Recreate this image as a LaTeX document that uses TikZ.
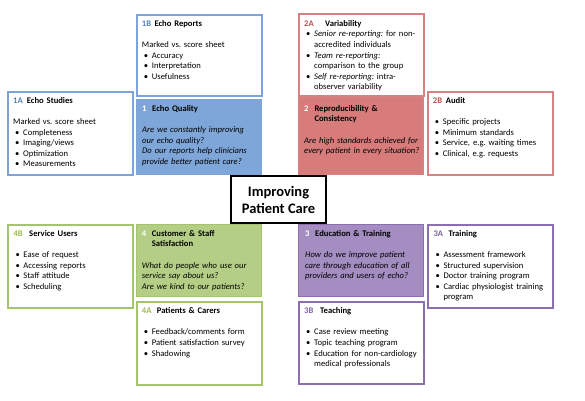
\documentclass[tikz,border=0pt]{standalone}
\usepackage{fontspec}
\setmainfont{Carlito}
\definecolor{bluefill}{HTML}{7FA6D8}
\definecolor{blueline}{HTML}{7DA3D8}
\definecolor{bluenum}{HTML}{4F81BD}
\definecolor{redfill}{HTML}{D77B7B}
\definecolor{redline}{HTML}{D68282}
\definecolor{rednum}{HTML}{C0504D}
\definecolor{greenfill}{HTML}{B4CE85}
\definecolor{greenline}{HTML}{A5C46E}
\definecolor{greennum}{HTML}{9BBB59}
\definecolor{purpfill}{HTML}{A38DC1}
\definecolor{purpline}{HTML}{8C6FB0}
\definecolor{purpnum}{HTML}{8064A2}
\frenchspacing
\newlength\hdw
\newcommand\hd[4]{\setlength\hdw{#1}\hangindent=\hdw\hangafter=1\noindent\makebox[\hdw][l]{\textbf{\color{#2}#3}}\textbf{#4}\par}
\newcommand\gap{\vspace{10.6pt}}
\newcommand\bl[1]{\hangindent=10pt\hangafter=1\noindent\hspace*{2pt}\makebox[8pt][l]{\textbullet}#1\par}
\newcommand\pl[1]{\noindent #1\par}
\newcommand\boxsetup{\raggedright\setlength\parindent{0pt}\frenchspacing}
\newcommand\boxfont{\fontsize{8.6}{10.6}\selectfont}
\tikzset{
  outbox/.style={draw=#1, line width=1.6pt, fill=white, inner sep=0pt, anchor=north west},
  fillbox/.style={draw=#1line, fill=#1fill, line width=1.2pt, inner sep=0pt, anchor=north west},
  txt/.style={anchor=base west, inner sep=0pt, text width=130pt, font=\boxfont,
    execute at begin node=\boxsetup},
}
\begin{document}
\begin{tikzpicture}[x=1pt,y=-1pt]
\useasboundingbox (0,0) rectangle (585,400);
% ---------- quadrant 1 (blue)
\node[outbox=blueline, minimum width=125pt, minimum height=83pt] (b1A) at (7,91) {};
\node[outbox=blueline, minimum width=125pt, minimum height=81pt] (b1B) at (136,14) {};
\node[fillbox=blue, minimum width=125pt, minimum height=75pt] (b1) at (136,99) {};
\node[txt] (t1A) at (13,103.3) {%
  \hd{13.7pt}{bluenum}{1A}{Echo Studies}\gap
  \pl{Marked vs. score sheet}
  \bl{Completeness}\bl{Imaging/views}\bl{Optimization}\bl{Measurements}};
\node[txt] (t1B) at (141.7,26.3) {%
  \hd{12.6pt}{bluenum}{1B}{Echo Reports}\gap
  \pl{Marked vs. score sheet}
  \bl{Accuracy}\bl{Interpretation}\bl{Usefulness}};
\node[txt] (t1) at (142,111.3) {%
  \hd{10pt}{white}{1}{Echo Quality}\gap
  \pl{\itshape Are we constantly improving\newline our echo quality?\newline
  Do our reports help clinicians\newline provide better patient care?}};
% ---------- quadrant 2 (red)
\node[outbox=redline, minimum width=125pt, minimum height=82pt] (b2A) at (298,13) {};
\node[fillbox=red, minimum width=125pt, minimum height=77pt] (b2) at (298,97) {};
\node[outbox=redline, minimum width=125pt, minimum height=83pt] (b2B) at (427,91) {};
\node[txt] (t2A) at (304,26.3) {%
  \hd{21pt}{rednum}{2A}{Variability}
  \bl{\textit{Senior re-reporting:} for non-\newline accredited individuals}
  \bl{\textit{Team re-reporting:}\newline comparison to the group}
  \bl{\textit{Self re-reporting:} intra-\newline observer variability}};
\node[txt] (t2) at (304,111.3) {%
  \hd{10.3pt}{white}{2}{Reproducibility \&\newline Consistency}\gap
  \pl{\itshape Are high standards achieved for\newline every patient in every situation?}};
\node[txt] (t2B) at (432.7,103.3) {%
  \hd{13pt}{rednum}{2B}{Audit}\gap
  \bl{Specific projects}\bl{Minimum standards}\bl{Service, e.g. waiting times}\bl{Clinical, e.g. requests}};
% ---------- quadrant 4 (green)
\node[outbox=greenline, minimum width=125pt, minimum height=83pt] (b4B) at (7,224) {};
\node[fillbox=green, minimum width=125pt, minimum height=72pt] (b4) at (136,224) {};
\node[outbox=greenline, minimum width=125pt, minimum height=83pt] (b4A) at (136,301) {};
\node[txt] (t4B) at (13.3,236.3) {%
  \hd{15.7pt}{greennum}{4B}{Service Users}\gap
  \bl{Ease of request}\bl{Accessing reports}\bl{Staff attitude}\bl{Scheduling}};
\node[txt] (t4) at (141.7,236.3) {%
  \hd{10pt}{white}{4}{Customer \& Staff\newline Satisfaction}\gap
  \pl{\itshape What do people who use our\newline service say about us?\newline Are we kind to our patients?}};
\node[txt] (t4A) at (141.7,313.7) {%
  \hd{15pt}{greennum}{4A}{Patients \& Carers}\gap
  \bl{Feedback/comments form}\bl{Patient satisfaction survey}\bl{Shadowing}};
% ---------- quadrant 3 (purple)
\node[fillbox=purp, minimum width=125pt, minimum height=72pt] (b3) at (298,224) {};
\node[outbox=purpline, minimum width=125pt, minimum height=83pt] (b3A) at (427,224) {};
\node[outbox=purpline, minimum width=125pt, minimum height=82pt] (b3B) at (298,301) {};
\node[txt] (t3) at (305,236.3) {%
  \hd{10pt}{white}{3}{Education \& Training}\gap
  \pl{\itshape How do we improve patient\newline care through education of all\newline providers and users of echo?}};
\node[txt] (t3A) at (433.3,236.3) {%
  \hd{15pt}{purpnum}{3A}{Training}\gap
  \bl{Assessment framework}\bl{Structured supervision}\bl{Doctor training program}\bl{Cardiac physiologist training\newline program}};
\node[txt] (t3B) at (304,313.7) {%
  \hd{16pt}{purpnum}{3B}{Teaching}\gap
  \bl{Case review meeting}\bl{Topic teaching program}\bl{Education for non-cardiology\newline medical professionals}};
% ---------- centre
\node[draw=black, line width=2pt, fill=white, minimum width=95pt, minimum height=47pt,
  inner sep=0pt, align=center, font=\bfseries\fontsize{14.5}{17}\selectfont] (c) at (278.5,199.5)
  {Improving\\Patient Care};
\end{tikzpicture}
\end{document}
